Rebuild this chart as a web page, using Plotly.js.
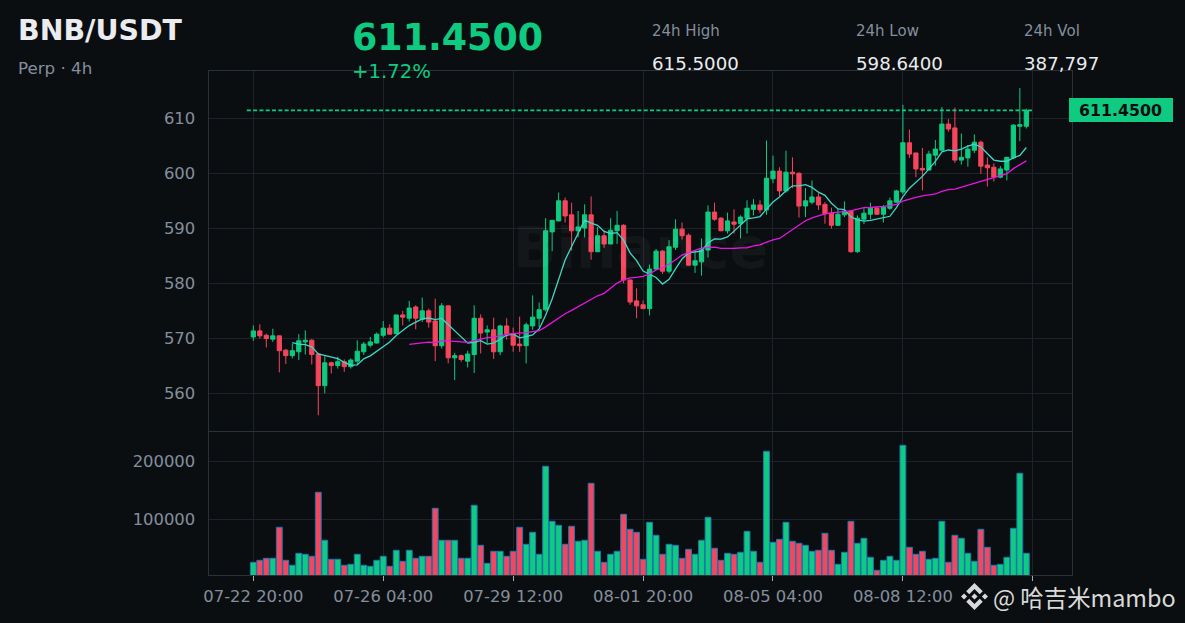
<!DOCTYPE html>
<html><head><meta charset="utf-8">
<script src="https://cdn.plot.ly/plotly-3.0.1.min.js"></script>
<style>html,body{margin:0;padding:0;background:#0b0e11}#c{width:1185px;height:623px}</style>
</head><body><div id="c"></div>
<script>
const opens=[570.25,571.35,570.55,569.85,570.45,567.85,566.85,567.55,569.35,569.65,567.15,561.4,565.55,565.05,565.75,564.85,565.85,567.55,568.75,569.15,570.55,571.85,570.85,574.25,573.65,575.7,573.45,575.0,573.15,568.65,575.9,566.45,566.85,565.85,567.05,573.65,571.15,571.55,567.55,572.25,570.85,568.95,568.65,572.25,573.65,575.2,589.35,591.35,595.0,592.45,589.55,590.05,592.45,585.75,588.65,587.15,589.55,590.55,580.6,576.8,576.1,575.4,582.6,585.85,582.2,586.55,589.85,588.75,583.3,583.9,586.05,592.95,591.85,589.55,591.15,590.85,591.85,593.45,594.25,593.35,599.0,600.4,596.8,600.2,600.0,594.05,594.75,595.7,594.35,592.75,590.55,592.45,593.15,585.75,591.65,592.55,593.65,592.55,593.65,594.75,596.6,605.55,603.7,600.9,600.6,603.3,604.2,608.95,608.25,602.4,602.8,604.2,605.65,601.5,601.1,599.3,600.6,602.8,608.55,608.55];
const highs=[572.35,572.55,570.85,571.75,570.45,568.05,569.05,570.75,571.45,569.85,567.35,566.75,565.75,566.65,566.15,566.35,569.65,569.35,570.25,571.05,573.15,572.55,574.25,575.0,576.8,576.0,577.4,575.4,577.2,576.4,575.9,567.35,567.05,567.75,576.0,574.35,572.35,573.75,572.45,573.65,571.95,573.95,572.85,577.8,576.5,591.85,591.45,596.5,595.6,594.65,593.15,594.35,595.8,590.25,589.65,591.85,593.15,590.75,580.7,579.1,576.9,583.4,586.25,586.05,587.85,591.65,591.05,589.05,585.95,588.15,594.15,594.65,592.05,592.85,593.45,592.35,595.1,595.3,595.1,605.95,603.2,601.1,604.1,602.9,600.2,597.3,598.7,596.4,594.75,593.75,593.65,594.9,593.35,592.35,593.65,594.65,593.95,594.25,595.6,597.0,612.45,607.95,603.7,604.6,604.1,606.05,612.05,609.85,611.95,607.25,605.15,607.05,605.95,602.9,601.8,601.3,603.0,608.95,615.5,611.75];
const lows=[569.55,569.95,568.35,569.35,563.8,565.35,566.35,566.05,567.05,565.25,556.0,560.0,563.6,564.5,563.9,564.5,565.15,566.95,568.35,569.05,570.15,570.75,570.75,572.35,573.05,571.65,572.95,571.95,565.85,568.15,565.45,562.4,565.75,564.7,563.7,567.25,569.05,566.25,566.95,569.75,567.55,567.55,565.45,571.55,572.05,574.9,585.85,591.25,591.05,585.95,588.35,588.35,584.3,585.65,586.45,587.15,587.15,580.0,576.1,573.65,575.3,574.15,582.4,581.7,581.8,586.05,587.95,583.3,581.9,581.4,584.7,591.35,589.55,589.05,589.05,588.15,589.05,592.35,592.75,592.45,598.2,595.8,596.5,597.3,591.95,592.05,594.35,593.35,590.85,589.95,590.45,592.05,585.55,585.55,590.75,591.65,592.45,591.05,593.35,594.65,596.2,602.8,599.3,596.9,600.5,601.4,604.1,607.55,601.9,601.6,601.2,603.7,599.9,597.6,598.5,599.1,598.7,602.6,605.85,608.15];
const closes=[571.35,570.45,569.95,570.45,567.75,566.85,567.75,569.55,569.65,567.05,561.4,565.55,565.05,565.75,564.85,566.05,567.65,568.95,569.35,570.75,571.85,570.75,574.25,573.85,575.5,573.65,575.0,572.95,568.65,575.9,566.45,566.85,566.15,567.15,573.65,570.95,571.55,567.55,572.25,570.85,568.75,568.65,572.45,573.85,575.2,589.55,591.45,595.0,592.25,589.55,590.25,592.45,585.75,588.65,587.15,589.65,590.55,580.6,576.6,575.9,575.4,582.6,585.85,582.2,586.65,589.85,588.65,583.3,584.1,586.05,592.95,591.65,589.55,591.35,590.75,592.05,593.65,594.25,593.35,599.1,600.4,596.8,600.2,599.9,594.05,595.0,595.7,594.25,592.65,590.55,592.55,593.15,585.75,591.85,592.75,593.65,592.55,593.85,595.0,596.8,605.55,603.5,600.8,600.6,603.5,604.4,608.95,608.05,602.4,602.9,604.4,605.65,601.3,601.0,599.3,600.8,602.9,608.75,608.85,611.45];
const volumes=[25860,29310,32760,32760,86200,29310,20700,41380,39660,36200,146550,63800,31030,31030,20700,22400,39660,20700,18970,29310,36200,18970,46550,27590,46550,32760,36200,36200,118970,63800,63800,63800,32760,32760,124140,55170,24140,44830,44830,36200,44830,86200,56900,77590,39660,191380,96550,89660,56900,87930,62070,63800,162070,44830,25860,39660,44830,108620,82760,77590,31030,94830,72410,39660,56900,55170,32760,48280,39660,63800,103450,50000,29310,41380,39660,43100,79310,44830,25860,217240,60340,65520,94830,62070,58620,55170,44830,46550,75860,46550,22410,43100,96550,58620,67240,34480,12070,29310,36200,29310,227590,51720,39660,44830,31030,32760,96550,25860,72410,67240,41380,27590,82760,51720,20700,22410,34480,84480,179310,41380];
const ma7=[569.22,568.96,568.85,568.44,567.15,566.84,566.58,566.29,565.62,565.11,565.19,566.26,566.81,567.62,568.49,569.34,570.51,571.39,572.32,572.94,573.54,573.69,573.39,573.62,572.56,571.34,570.26,569.15,569.25,569.58,568.96,569.12,569.89,570.56,570.79,570.08,570.29,570.62,571.71,574.21,577.14,580.87,584.23,586.71,589.04,591.49,590.95,590.55,589.44,589.06,589.21,587.84,585.53,584.13,582.24,581.6,581.06,579.87,580.73,582.61,584.43,585.56,585.77,585.85,587.38,588.09,588.05,588.44,589.49,590.62,591.71,591.89,592.14,593.49,594.78,595.69,596.84,597.73,597.7,597.93,597.44,596.57,595.99,594.56,593.52,593.39,592.08,591.54,591.32,591.46,591.75,591.94,592.19,593.76,595.76,597.29,598.3,599.44,600.81,602.16,603.89,604.24,604.09,604.39,604.93,605.28,604.79,603.66,602.41,602.19,602.19,602.8,603.26,604.69];
const ma25=[568.89,568.99,569.17,569.29,569.21,569.54,569.52,569.49,569.35,569.25,569.51,569.89,570.13,570.23,570.49,570.73,570.84,570.88,571.02,571.2,571.38,572.08,572.91,573.73,574.46,575.07,575.73,576.43,576.94,577.73,578.18,579.1,580.05,580.62,581.0,581.09,581.26,581.7,582.43,582.83,583.46,584.3,585.14,585.57,585.98,586.41,586.55,586.56,586.34,586.31,586.35,586.43,586.47,586.81,587.0,587.48,587.91,588.15,588.93,589.86,590.59,591.37,591.89,592.22,592.64,592.79,592.9,593.08,593.18,593.49,593.75,593.78,593.82,593.99,594.13,594.37,594.96,595.35,595.61,595.9,596.08,596.24,596.72,597.03,597.13,597.48,597.86,598.26,598.54,598.87,599.22,599.54,599.93,600.85,601.52,602.27];
const lastPrice=[611.45,611.45];
const lastX=[-1,120];
const xIdx=closes.map((_,i)=>i);
const tickIdx=[0,20,40,60,80,100,120];
const tickLabels=['07-22 20:00','07-26 04:00','07-29 12:00','08-01 20:00','08-05 04:00','08-08 12:00',''];
const priceTicks=[560,570,580,590,600,610];
const volTicks=[100000,200000];
const UP='#0ecb81',DOWN='#f6465d',GRAY='#848e9c',GRID='#1e2329',EDGE='#2b3139';
const W=1185,H=623;
const px=x=>x/W, py=y=>1-y/H;
const font='DejaVu Sans';
function label(text,x,y,size,color,bold,anchor){
  return {text:bold?'<b>'+text+'</b>':text,x:px(x),y:py(y),xref:'paper',yref:'paper',xanchor:anchor||'left',yanchor:'middle',showarrow:false,font:{family:font,size:size,color:color},borderpad:0,borderwidth:0};
}
const logo='<svg xmlns="http://www.w3.org/2000/svg" viewBox="0 0 24 24"><path fill="#d9d9d9" d="M16.624 13.9202l2.7175 2.7154-7.353 7.353-7.353-7.352 2.7175-2.7164 4.6355 4.6595 4.6356-4.6595zm4.6366-4.6366L24 12l-2.7154 2.7164L18.5682 12l2.6924-2.7164zm-9.272.001l2.7163 2.6914-2.7164 2.7174v-.001L9.2721 12l2.7164-2.7154zm-9.2722-.001L5.4088 12l-2.6914 2.6924L0 12l2.7164-2.7164zM11.9885.0115l7.353 7.329-2.7174 2.7154-4.6356-4.6356-4.6355 4.6595-2.7174-2.7154 7.353-7.353z"/></svg>';
const traces=[
 {type:'bar',x:xIdx,y:volumes,xaxis:'x',yaxis:'y2',width:0.9,marker:{color:closes.map((c,i)=>c>=opens[i]?UP:DOWN),line:{color:'#1f77b4',width:1}},hoverinfo:'skip'},
 {type:'candlestick',x:xIdx,open:opens,high:highs,low:lows,close:closes,xaxis:'x2',yaxis:'y',whiskerwidth:0,
  increasing:{line:{color:UP,width:1},fillcolor:UP},decreasing:{line:{color:DOWN,width:1},fillcolor:DOWN},hoverinfo:'skip'},
 {type:'scatter',mode:'lines',x:xIdx.slice(6),y:ma7,xaxis:'x2',yaxis:'y',line:{color:'#3fd6c6',width:1.3},hoverinfo:'skip'},
 {type:'scatter',mode:'lines',x:xIdx.slice(24),y:ma25,xaxis:'x2',yaxis:'y',line:{color:'#e815e0',width:1.3},hoverinfo:'skip'},
 {type:'scatter',mode:'lines',x:lastX,y:lastPrice,xaxis:'x2',yaxis:'y',line:{color:UP,width:1.6,dash:'4px,2.3px'},hoverinfo:'skip'}
];
const xRange=[-6.9,126.03];
const xDomain=[208.5/W,1072/W];
const layout={
 width:W,height:H,margin:{l:0,r:0,t:0,b:0},paper_bgcolor:'#0b0e11',plot_bgcolor:'#0b0e11',showlegend:false,
 font:{family:font,color:GRAY},
 boxgap:0.35,boxgroupgap:0,
 xaxis:{domain:xDomain,anchor:'y2',range:xRange,tickmode:'array',tickvals:tickIdx,ticktext:tickLabels,ticks:'outside',ticklen:5,tickcolor:'#aaaaaa',tickwidth:1,tickangle:0,ticklabelstandoff:1,tickfont:{size:16.4,color:GRAY,family:font},showgrid:true,gridcolor:GRID,gridwidth:1,zeroline:false,showline:true,mirror:false,linecolor:EDGE,linewidth:1},
 xaxis2:{domain:xDomain,anchor:'y',range:xRange,tickmode:'array',tickvals:tickIdx,showticklabels:false,ticks:'',showgrid:true,gridcolor:GRID,gridwidth:1,zeroline:false,showline:true,mirror:true,linecolor:EDGE,linewidth:1,rangeslider:{visible:false}},
 yaxis:{domain:[py(431),py(71)],anchor:'x2',range:[553.15,618.6],tickmode:'array',tickvals:priceTicks,ticks:'',ticklabelstandoff:9,tickfont:{size:16.4,color:GRAY,family:font},showgrid:true,gridcolor:GRID,gridwidth:1,zeroline:false,showline:true,mirror:true,linecolor:EDGE,linewidth:1},
 yaxis2:{domain:[py(575.3),py(431)],anchor:'x',range:[3450,252240],tickmode:'array',tickvals:volTicks,ticktext:volTicks.map(String),ticks:'',ticklabelstandoff:9,tickfont:{size:16.4,color:GRAY,family:font},showgrid:true,gridcolor:GRID,gridwidth:1,zeroline:false,showline:true,mirror:true,linecolor:EDGE,linewidth:1},
 shapes:[{type:'rect',xref:'paper',yref:'paper',x0:px(1069),x1:px(1173),y0:py(98),y1:py(122),fillcolor:UP,line:{width:0},layer:'above'}],
 images:[{source:'data:image/svg+xml;utf8,'+encodeURIComponent(logo),xref:'paper',yref:'paper',x:px(961),y:py(583),sizex:27/W,sizey:27/H,xanchor:'left',yanchor:'top',sizing:'stretch',layer:'above'}],
 annotations:[
  label('BNB/USDT',18,31,28.4,'#eaecef',true),
  label('Perp · 4h',18,67.5,16.7,GRAY,false),
  label('611.4500',352,38,36.4,UP,true),
  label('+1.72%',352,71,19.7,UP,false),
  label('24h High',652,31,15,GRAY,false),
  label('615.5000',652,63,18.2,'#eaecef',false),
  label('24h Low',856,31,15,GRAY,false),
  label('598.6400',856,63,18.2,'#eaecef',false),
  label('24h Vol',1024,31,15,GRAY,false),
  label('387,797',1024,63,18.2,'#eaecef',false),
  label('611.4500',1120.5,110,15.8,'#0b0e11',true,'center'),
  label('Binance',640,248,57,'rgba(255,255,255,0.04)',true,'center'),
  {text:'@ 哈吉米mambo',x:px(993),y:py(597),xref:'paper',yref:'paper',xanchor:'left',yanchor:'middle',showarrow:false,font:{family:'Noto Sans CJK SC',size:23.4,color:'#d9d9d9'},borderpad:0,borderwidth:0}
 ]
};
Plotly.newPlot('c',traces,layout,{staticPlot:true,displayModeBar:false});
</script></body></html>
